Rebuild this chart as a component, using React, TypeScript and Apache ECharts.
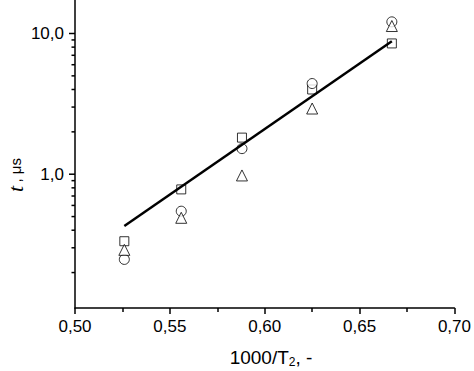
import React, { useEffect, useRef } from "react";
import * as echarts from "echarts";

const xValues = [0.526, 0.556, 0.588, 0.625, 0.667];
const squares = [0.334, 0.78, 1.82, 4.0, 8.5];
const circles = [0.248, 0.546, 1.52, 4.41, 12.1];
const triangles = [0.29, 0.49, 0.98, 2.93, 11.3];
const fitX = [0.526, 0.667];
const fitY = [0.428, 8.8];
const yMajorTicks = [1, 10];
const yMinorTicks = [0.2, 0.3, 0.4, 0.5, 0.6, 0.7, 0.8, 0.9, 2, 3, 4, 5, 6, 7, 8, 9];
const X_MIN = 0.5;
const X_MAX = 0.7;
const Y_MIN = 0.112;
const Y_MAX = 17.3;

const FONT = "'Liberation Sans', Arial, sans-serif";

export default function App() {
  const ref = useRef<HTMLDivElement>(null);
  useEffect(() => {
    if (!ref.current) return;
    const chart = echarts.init(ref.current, null, { renderer: "svg" });
    const pts = (ys: number[]) => xValues.map((x, i) => [x, ys[i]]);
    const markerStyle = { color: "#fff", borderColor: "#000", borderWidth: 1 };
    const tickData = [
      ...yMajorTicks.map((v) => [X_MIN, v, 1]),
      ...yMinorTicks.map((v) => [X_MIN, v, 0]),
    ];
    chart.setOption({
      animation: false,
      backgroundColor: "#fff",
      grid: { left: 75, right: 17, top: 0, bottom: 63, containLabel: false },
      xAxis: {
        type: "value",
        min: X_MIN,
        max: X_MAX,
        interval: 0.05,
        axisLine: { lineStyle: { color: "#000", width: 1.5 } },
        axisTick: { length: 6, lineStyle: { color: "#000", width: 1.5 } },
        minorTick: { show: true, splitNumber: 2, length: 4, lineStyle: { color: "#000", width: 1.5 } },
        splitLine: { show: false },
        axisLabel: {
          color: "#000",
          fontSize: 17,
          fontFamily: FONT,
          margin: 10,
          formatter: (v: number) => v.toFixed(2).replace(".", ","),
        },
      },
      yAxis: {
        type: "log",
        min: Y_MIN,
        max: Y_MAX,
        axisLine: { lineStyle: { color: "#000", width: 1.5 } },
        axisTick: { show: false },
        splitLine: { show: false },
        axisLabel: {
          color: "#000",
          fontSize: 17,
          fontFamily: FONT,
          margin: 11,
          showMinLabel: false,
          showMaxLabel: false,
          formatter: (v: number) =>
            yMajorTicks.some((t) => Math.abs(t - v) < 1e-6) ? v.toFixed(1).replace(".", ",") : "",
        },
      },
      series: [
        {
          type: "custom",
          clip: false,
          silent: true,
          data: tickData,
          renderItem: (params: any, api: any) => {
            const p = api.coord([api.value(0), api.value(1)]);
            const len = api.value(2) ? 6 : 3.5;
            return {
              type: "line",
              shape: { x1: p[0] - len, y1: p[1], x2: p[0], y2: p[1] },
              style: { stroke: "#000", lineWidth: 1.5 },
            };
          },
        },
        {
          type: "scatter",
          symbol: "rect",
          symbolSize: 9,
          itemStyle: markerStyle,
          data: pts(squares),
          z: 2,
        },
        {
          type: "scatter",
          symbol: "circle",
          symbolSize: 10,
          itemStyle: markerStyle,
          data: pts(circles),
          z: 2,
        },
        {
          type: "scatter",
          symbol: "triangle",
          symbolSize: 11,
          itemStyle: markerStyle,
          data: pts(triangles),
          z: 2,
        },
        {
          type: "line",
          data: fitX.map((x, i) => [x, fitY[i]]),
          showSymbol: false,
          symbol: "none",
          lineStyle: { color: "#000", width: 2.5 },
          z: 5,
        },
      ],
      graphic: [
        {
          type: "text",
          x: 15,
          y: 175,
          rotation: Math.PI / 2,
          style: {
            text: "{i|t} {n|, μs}",
            align: "center",
            verticalAlign: "middle",
            rich: {
              i: { fontFamily: "'Liberation Serif', 'Times New Roman', serif", fontStyle: "italic", fontSize: 22, fill: "#000", lineHeight: 24 },
              n: { fontFamily: FONT, fontSize: 15, fill: "#000", lineHeight: 24 },
            },
          },
        },
        {
          type: "text",
          x: 271,
          y: 357,
          style: {
            text: "{n|1000/T}{s|2}{n|, -}",
            align: "center",
            verticalAlign: "middle",
            rich: {
              n: { fontFamily: FONT, fontSize: 19, fill: "#000", lineHeight: 22 },
              s: { fontFamily: FONT, fontSize: 12, fill: "#000", lineHeight: 8, verticalAlign: "bottom" },
            },
          },
        },
      ],
    });
    return () => chart.dispose();
  }, []);
  return (
    <div
      ref={ref}
      style={{ position: "absolute", left: 0, top: 0, width: 474, height: 371, background: "#fff" }}
    />
  );
}
